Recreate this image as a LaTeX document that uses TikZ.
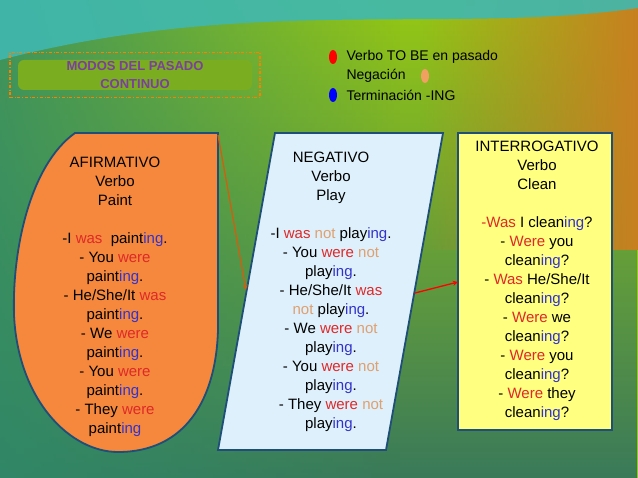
\documentclass[tikz,border=0pt]{standalone}
\usepackage{fontspec}
\usetikzlibrary{fadings}
\setmainfont{Liberation Sans}
\begin{document}
\begin{tikzpicture}[x=1pt,y=-1pt,
  txt/.style={align=center,font=\fontsize{15}{19}\selectfont,text=black},
  box/.style={draw=bord,line width=1.8pt}]
\definecolor{rd}{HTML}{E02828}\definecolor{ng}{HTML}{E0A070}\definecolor{bl}{HTML}{3333CC}
\definecolor{bord}{HTML}{1F4E79}\definecolor{lime}{HTML}{96C814}
\definecolor{dkg}{HTML}{3A7A5A}\definecolor{teal2}{HTML}{2E8A6A}\definecolor{brn}{HTML}{C88020}
\definecolor{cy}{HTML}{40B8B0}\definecolor{tbox}{HTML}{7AAE20}\definecolor{vio}{HTML}{7B3F9E}
\definecolor{ngd}{HTML}{F0A060}\definecolor{orf}{HTML}{F5883C}\definecolor{lbf}{HTML}{DDF0FB}
\definecolor{yef}{HTML}{FFFF80}\definecolor{arr}{HTML}{D06010}
\newcommand{\W}[1]{\textcolor{rd}{#1}}\newcommand{\N}[1]{\textcolor{ng}{#1}}\newcommand{\G}[1]{\textcolor{bl}{#1}}
\useasboundingbox (0,0) rectangle (638,478);
\fill[lime] (0,0) rectangle (638,478);
\fill[dkg,path fading=north] (0,0) rectangle (638,478);
\fill[teal2,path fading=east,opacity=0.8] (0,0) rectangle (400,478);
\fill[brn,path fading=west] (420,0) rectangle (638,250);
\fill[cy,opacity=0.9] (0,0) -- (638,0) -- (638,8) .. controls (450,35) and (250,-5) .. (0,60) -- cycle;
% title box
\fill[tbox,rounded corners=6pt] (18,60) rectangle (252,90);
\node[draw=orange,dash dot,line width=1.5pt,minimum width=250,minimum height=45,inner sep=0] (title) at (135,75) {};
\node[align=center,font=\bfseries\fontsize{13}{18}\selectfont,text=vio] (tt) at (135,75) {MODOS DEL PASADO\\CONTINUO};
% legend
\fill[red] (333,57) ellipse (4 and 7);
\fill[ngd] (425,76) ellipse (4 and 7);
\fill[blue] (333,95) ellipse (4 and 7);
\node[anchor=west,font=\fontsize{14}{18}\selectfont] (l1) at (343,57) {Verbo TO BE en pasado};
\node[anchor=west,font=\fontsize{14}{18}\selectfont] (l2) at (343,76) {Negación};
\node[anchor=west,font=\fontsize{14}{18}\selectfont] (l3) at (343,95) {Terminación -ING};
% shapes
\fill[box,fill=orf] (218,133) -- (75,133) .. controls (30,165) and (12,250) .. (14,315) .. controls (18,400) and (70,452) .. (118,452) .. controls (185,452) and (216,400) .. (218,330) -- cycle;
\fill[box,fill=lbf] (275,133) -- (443,133) -- (386,450) -- (218,450) -- cycle;
\fill[box,fill=yef] (458,133) rectangle (612,430);
\node[txt] (af) at (115,297) {AFIRMATIVO\\Verbo\\Paint\\[19pt]-I \W{was}\ \ paint\G{ing}.\\- You \W{were}\\paint\G{ing}.\\- He/She/It \W{was}\\paint\G{ing}.\\- We \W{were}\\paint\G{ing}.\\- You \W{were}\\paint\G{ing}.\\- They \W{were}\\paint\G{ing}};
\node[txt] (ne) at (331,292) {NEGATIVO\\Verbo\\Play\\[19pt]-I \W{was} \N{not} play\G{ing}.\\- You \W{were} \N{not}\\play\G{ing}.\\- He/She/It \W{was}\\\N{not} play\G{ing}.\\- We \W{were} \N{not}\\play\G{ing}.\\- You \W{were} \N{not}\\play\G{ing}.\\- They \W{were} \N{not}\\play\G{ing}.};
\node[txt] (in) at (537,281) {INTERROGATIVO\\Verbo\\Clean\\[19pt]\W{-Was} I clean\G{ing}?\\- \W{Were} you\\clean\G{ing}?\\- \W{Was} He/She/It\\clean\G{ing}?\\- \W{Were} we\\clean\G{ing}?\\- \W{Were} you\\clean\G{ing}?\\- \W{Were} they\\clean\G{ing}?};
\coordinate (a1) at (218,135); \coordinate (a2) at (246,290);
\coordinate (b1) at (415,293); \coordinate (b2) at (458,282);
\draw[-stealth,arr,line width=1.3pt] (a1) -- (a2);
\draw[-stealth,red,line width=1.3pt] (b1) -- (b2);
\end{tikzpicture}
\end{document}
